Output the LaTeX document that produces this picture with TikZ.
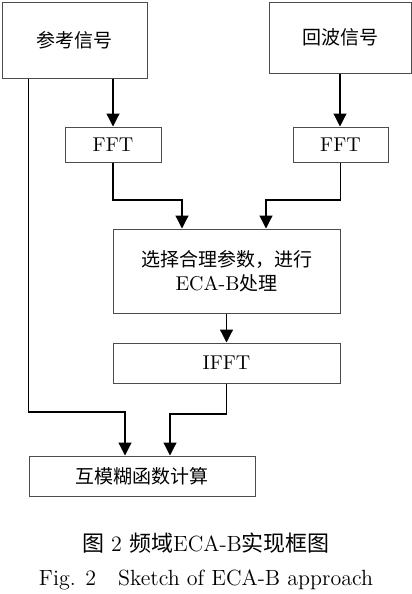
\documentclass[tikz,border=0pt]{standalone}
\usepackage{fontspec}
\usepackage{tikz}
\usetikzlibrary{arrows.meta,positioning,calc}
\newfontfamily\cjk{Noto Sans CJK SC}
\tikzset{
  blk/.style={draw=black!70, line width=0.5pt, inner sep=0pt, font=\fontsize{10}{12}\selectfont, align=center},
  flow/.style={-{Triangle[length=6.5pt, width=6.5pt]}, line width=0.6pt, black},
  captxt/.style={inner sep=0pt, font=\fontsize{11}{13}\selectfont},
}

\begin{document}
\begin{tikzpicture}[x=0.5pt, y=-0.5pt]
\useasboundingbox (0,0) rectangle (412,594);
% --- signal sources ---
\node[blk, minimum width=72.5pt, minimum height=38pt] (ref) at (74.5,40) {\cjk\fontsize{9.5}{12}\selectfont 参考信号};
\node[blk, minimum width=71pt, minimum height=35.5pt] (echo) at (340,37.5) {\cjk\fontsize{9.5}{12}\selectfont 回波信号};
% --- transforms ---
\node[blk, minimum width=48pt, minimum height=17.5pt] (fft1) at (113,144.5) {FFT};
\node[blk, minimum width=47.5pt, minimum height=17.5pt] (fft2) at (340.5,144.5) {FFT};
\node[blk, minimum width=113.5pt, minimum height=42pt] (proc) at (226.5,271)
  {{\cjk\fontsize{9.5}{12}\selectfont 选择合理参数，进行}\\ECA-B{\cjk\fontsize{9.5}{12}\selectfont 处理}};
\node[blk, minimum width=113.5pt, minimum height=20pt] (ifft) at (226.5,363) {IFFT};
\node[blk, minimum width=113pt, minimum height=20pt] (amb) at (142,476) {\cjk\fontsize{9.5}{12}\selectfont 互模糊函数计算};
% --- junctions ---
\coordinate (j1) at (125,412);
\coordinate (j2) at (170,414);
\coordinate (j3) at (182,200);
\coordinate (j4) at (266,200);
% --- connectors ---
\draw[flow] (fft1.north |- ref.south) -- (fft1.north);
\draw[flow] (echo.south) -- (echo.south |- fft2.north);
\draw[flow] (fft1.south) |- (j3) -- (j3 |- proc.north);
\draw[flow] (fft2.south) |- (j4) -- (j4 |- proc.north);
\draw[flow] (proc.south) -- (ifft.north);
\draw[flow] (amb.west |- ref.south) -- (amb.west |- j1) -- (j1) -- (j1 |- amb.north);
\draw[flow] (ifft.south) -- (ifft.south |- j2) -- (j2) -- (j2 |- amb.north);
% --- captions ---
\node[captxt] (capzh) at (206,543) {{\cjk 图} 2 {\cjk 频域}ECA-B{\cjk 实现框图}};
\node[captxt] (capen) at (206,580) {Fig. 2\quad Sketch of ECA-B approach};
\end{tikzpicture}
\end{document}
